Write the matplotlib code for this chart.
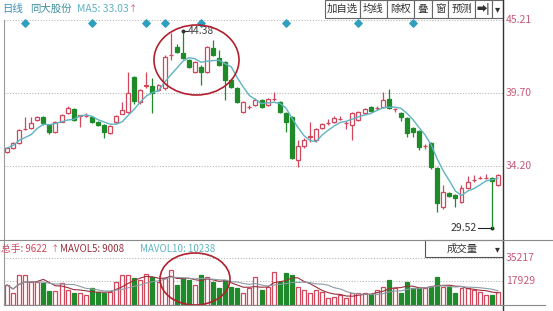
import matplotlib.pyplot as plt
from matplotlib.patches import Rectangle, Ellipse
from matplotlib.lines import Line2D
import pandas as pd

plt.rcParams['font.family'] = ['Noto Sans CJK SC', 'DejaVu Sans']

# daily candles
opens = [35.26, 35.56, 35.94, 36.98, 37.07, 37.67, 37.90, 37.30, 36.77, 37.52,
         38.20, 38.50, 37.98, 37.98, 37.90, 37.52, 37.30, 36.69, 37.52, 38.13,
         38.28, 40.91, 39.03, 40.20, 40.24, 39.93, 40.09, 42.55, 43.18, 42.72,
         42.20, 41.29, 41.67, 41.29, 43.10, 42.35, 42.04, 40.69, 40.09, 38.28,
         38.62, 38.80, 39.18, 38.80, 39.24, 39.03, 38.20, 37.90, 34.66, 35.71,
         36.40, 36.13, 37.07, 37.43, 37.52, 37.73, 37.43, 37.30, 37.67, 38.20,
         38.65, 38.56, 38.65, 39.26, 38.48, 38.20, 37.82, 37.07, 36.85, 35.69,
         35.94, 34.06, 31.12, 32.17, 32.02, 31.49, 32.55, 33.13, 33.28, 33.28,
         33.30, 32.77]
highs = [35.64, 36.00, 37.00, 37.90, 37.90, 38.00, 38.00, 37.40, 37.60, 38.10,
         38.75, 38.60, 38.05, 38.20, 38.00, 37.60, 37.35, 37.30, 38.05, 39.03,
         41.29, 41.00, 40.00, 41.29, 40.84, 40.40, 42.60, 44.23, 43.40, 44.38,
         42.30, 42.10, 41.80, 43.25, 43.70, 42.95, 42.10, 40.75, 40.15, 39.10,
         38.80, 39.30, 39.25, 39.35, 39.78, 39.10, 38.25, 38.00, 36.17, 36.30,
         37.50, 37.10, 37.45, 37.75, 38.00, 37.95, 37.60, 38.30, 38.35, 38.55,
         38.70, 38.75, 39.78, 40.01, 38.60, 38.25, 37.90, 37.15, 36.90, 35.90,
         36.00, 34.10, 32.77, 32.25, 32.10, 32.77, 33.45, 33.50, 33.45, 33.60,
         33.35, 33.60]
lows = [35.18, 35.50, 35.90, 36.90, 37.00, 37.60, 37.30, 36.60, 36.70, 37.50,
        38.15, 37.60, 37.15, 37.90, 37.45, 37.20, 36.32, 36.60, 37.45, 38.10,
        38.20, 38.90, 38.90, 40.10, 38.20, 39.85, 39.90, 42.20, 42.70, 42.30,
        41.60, 41.20, 40.31, 41.20, 42.50, 41.75, 39.18, 40.10, 38.95, 38.20,
        38.50, 38.70, 38.60, 38.75, 39.10, 38.20, 36.77, 34.70, 34.13, 35.60,
        36.00, 36.05, 37.00, 37.30, 37.45, 37.65, 37.00, 36.17, 37.60, 38.15,
        38.30, 38.45, 38.60, 38.50, 38.30, 37.60, 36.39, 36.40, 35.40, 35.50,
        34.00, 30.74, 31.00, 31.90, 31.12, 31.40, 32.50, 33.00, 33.20, 33.20,
        33.00, 32.70]
closes = [35.56, 35.94, 36.92, 37.02, 37.45, 37.90, 37.45, 36.77, 37.52, 38.05,
          38.58, 37.67, 38.02, 38.00, 37.52, 37.30, 36.77, 37.22, 37.98, 38.43,
          39.71, 39.10, 39.93, 40.28, 39.71, 40.31, 42.42, 42.60, 42.80, 42.35,
          41.67, 42.04, 41.29, 43.18, 42.57, 41.82, 40.69, 40.16, 39.03, 39.03,
          38.67, 39.18, 38.65, 39.26, 39.28, 38.28, 37.52, 34.81, 35.71, 36.17,
          36.45, 37.03, 37.37, 37.47, 37.82, 37.77, 37.47, 38.20, 38.28, 38.50,
          38.35, 38.60, 39.18, 38.58, 38.52, 37.90, 36.69, 36.77, 35.64, 35.73,
          34.13, 31.42, 32.25, 31.95, 31.80, 32.55, 33.00, 33.17, 33.32, 33.32,
          33.08, 33.53]
volumes = [15000, 9000, 22500, 22500, 17200, 17200, 16500, 10500, 10500, 16500,
           11200, 9000, 9000, 7500, 12700, 9700, 9000, 9700, 17200, 22500,
           22500, 20200, 18700, 23200, 21000, 17200, 20200, 26200, 15000, 20200,
           18700, 15000, 22500, 21000, 17200, 12700, 18700, 13500, 12700, 9000,
           12700, 21000, 11200, 13500, 24700, 17200, 24000, 22500, 13500, 11200,
           9000, 11200, 9700, 5200, 6000, 7500, 5200, 9000, 9000, 9000,
           8200, 11200, 13500, 18700, 12700, 9000, 17200, 12700, 12700, 12700,
           13500, 21000, 13500, 13500, 9000, 12700, 12700, 11200, 9700, 7500,
           7500, 9700]

price_ticks = [45.21, 39.70, 34.20]
vol_ticks = [35217, 17929]
marker_days = [3, 14, 23, 26, 32, 46, 58, 67]
high_day, high_label = 29, 44.38
low_day, low_label = 80, 29.52
toolbar = ['加自选', '均线', '除权', '叠', '窗', '预测', '➡|', '▾']

RED = '#d2475c'
GREEN = '#1f8a2a'
TEAL = '#5eb4c2'
PINK = '#c85a78'

W, H = 553, 311
fig = plt.figure(figsize=(W / 100, H / 100), dpi=100)


def fx(x):
    return x / W


def fy(y):
    return 1 - y / H


x0, x1 = 4, 503
step = 6.06
xlim = ((x0 - 7) / step, (x1 - 7) / step)

ax = fig.add_axes([fx(x0), fy(240), fx(x1) - fx(x0), fy(20) - fy(240)])
ax.set_xlim(xlim)
ax.set_ylim(45.21 - 220 * 0.07536, 45.21)

vax = fig.add_axes([fx(x0), fy(305), fx(x1) - fx(x0), fy(240) - fy(305)])
vax.set_xlim(xlim)
vax.set_ylim(0, 65 * 35217 / 47)

for a in (ax, vax):
    a.set_xticks([])
    a.set_yticks([])
    for s in a.spines.values():
        s.set_visible(False)
    a.patch.set_alpha(0)

# grid
for p in price_ticks:
    ax.axhline(p, color='#b8b8b8', lw=0.8, ls=(0, (1, 1.5)), zorder=0)
for v in vol_ticks:
    vax.axhline(v, color='#b8b8b8', lw=0.8, ls=(0, (1, 1.5)), zorder=0)

bw = 0.66
for i, (o, h, l, c) in enumerate(zip(opens, highs, lows, closes)):
    col = RED if c >= o else GREEN
    ax.vlines(i, l, h, color=col, lw=0.9, zorder=2)
    lo, hi = min(o, c), max(o, c)
    ax.add_patch(Rectangle((i - bw / 2, lo), bw, max(hi - lo, 0.03),
                           facecolor='white' if c >= o else GREEN,
                           edgecolor=col, lw=0.9, zorder=3))
    vax.add_patch(Rectangle((i - bw / 2, 0), bw, volumes[i],
                            facecolor='white' if c >= o else GREEN,
                            edgecolor=col, lw=0.9, zorder=2))

days = list(range(len(closes)))
ma5 = pd.Series(closes).rolling(5, min_periods=1).mean()
ax.plot(days, ma5, color=TEAL, lw=1.0, zorder=4)

vol = pd.Series(volumes)
vax.plot(days, vol.rolling(5, min_periods=1).mean(), color='#9a2f3c', lw=0.8, zorder=3)
vax.plot(days, vol.rolling(10, min_periods=1).mean(), color='#8c9ca6', lw=0.8, zorder=3)

ax.scatter(marker_days, [44.98] * len(marker_days), marker='D', s=14,
           color='#2f9fbe', zorder=5, clip_on=False)

# high / low marks
ax.plot([high_day, high_day + 0.8], [high_label, high_label], color='#333333', lw=0.8)
ax.plot([high_day], [high_label], marker='o', ms=1.8, color='#333333')
ax.text(high_day + 0.8, high_label, '44.38', fontsize=7.5, color='#444444',
        va='center', ha='left')
ax.plot([low_day, low_day], [closes[low_day], low_label], color=GREEN, lw=0.9, zorder=4)
ax.plot([low_day - 2.2, low_day], [low_label, low_label], color='#222222', lw=0.8)
ax.plot([low_day], [low_label], marker='o', ms=1.8, color='#222222')
ax.text(low_day - 2.5, low_label, '29.52', fontsize=7.5, color='#333333',
        va='center', ha='right')

# red circles
fig.patches.append(Ellipse((fx(196.5), fy(60)), 85 / W, 70 / H, fill=False,
                           ec='#b0202e', lw=1.2, transform=fig.transFigure))
fig.patches.append(Ellipse((fx(195), fy(279)), 70 / W, 52 / H, fill=False,
                           ec='#b0202e', lw=1.2, transform=fig.transFigure))

# frame lines
fig.add_artist(Line2D([fx(4), fx(4)], [fy(20), fy(305)], color='#9a9a9a', lw=0.8))
fig.add_artist(Line2D([fx(503), fx(503)], [fy(0), fy(311)], color='#333333', lw=1.0))
fig.add_artist(Line2D([fx(0), fx(553)], [fy(240), fy(240)], color='#8a8a8a', lw=0.8))
fig.add_artist(Line2D([fx(4), fx(545)], [fy(305), fy(305)], color='#8a8a8a', lw=0.8))

# axis labels
ymin = ax.get_ylim()[0]
for p in price_ticks:
    ax.text(1.006, (p - ymin) / (45.21 - ymin), f'{p:.2f}',
            transform=ax.transAxes, fontsize=7.5, color=PINK, va='center', ha='left')
for v in vol_ticks:
    vax.text(1.006, v / vax.get_ylim()[1], f'{v}', transform=vax.transAxes,
             fontsize=7.5, color=PINK, va='center', ha='left')

# header texts
fig.text(fx(2), fy(9), '日线', fontsize=7.5, color='#3a8fc0', va='center')
fig.text(fx(30), fy(9), '同大股份', fontsize=7.5, color='#3f8f9f', va='center')
fig.text(fx(77), fy(9), 'MA5: 33.03', fontsize=7.5, color=TEAL, va='center')
fig.text(fx(129), fy(8), '↑', fontsize=6, color=RED, va='center')

fig.text(fx(1), fy(249), '总手: 9622', fontsize=7, color=RED, va='center')
fig.text(fx(51), fy(248), '↑', fontsize=6, color=RED, va='center')
fig.text(fx(60), fy(249), 'MAVOL5: 9008', fontsize=7, color='#9a2f3c', va='center')
fig.text(fx(140), fy(249), 'MAVOL10: 10238', fontsize=7, color=TEAL, va='center')

# volume selector box
fig.patches.append(Rectangle((fx(425), fy(257)), (503 - 425) / W, 17 / H, fill=True,
                             fc='white', ec='#555555', lw=0.8, transform=fig.transFigure))
fig.text(fx(462), fy(249), '成交量', fontsize=7.5, color='#333333', va='center', ha='center')
fig.text(fx(497), fy(249), '▾', fontsize=7, color='#333333', va='center', ha='center')

# toolbar buttons
edges = [325, 360, 387, 414, 432, 448, 475, 492, 503]
for k, label in enumerate(toolbar):
    a, b = edges[k], edges[k + 1]
    fig.patches.append(Rectangle((fx(a), fy(18)), (b - a) / W, 18 / H, fc='white',
                                 ec='#666666', lw=0.8, transform=fig.transFigure))
    fig.text(fx((a + b) / 2), fy(9), label, fontsize=7.5, color='#333333',
             va='center', ha='center', weight='bold' if k >= 6 else 'normal')

fig.savefig('out.png', dpi=100)
